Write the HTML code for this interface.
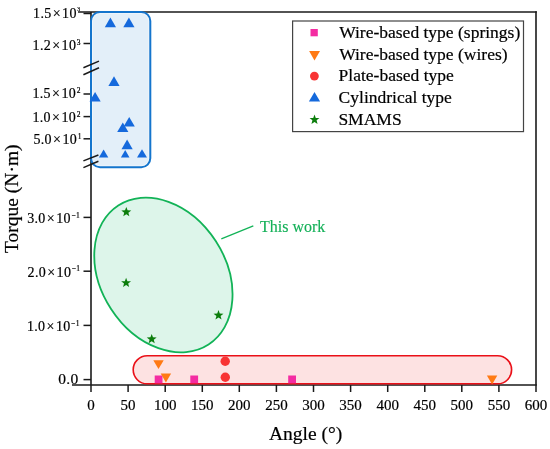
<!DOCTYPE html>
<html><head><meta charset="utf-8">
<style>
html,body{margin:0;padding:0;background:#fff;}
body{width:550px;height:449px;overflow:hidden;}
svg{display:block;}
text{font-family:"Liberation Serif","Times New Roman",serif;fill:#000;stroke:#000;stroke-width:0.2px;}
.tl{font-size:14px;letter-spacing:0.3px;}
.sup{font-size:7.5px;}
.xl{font-size:15px;}
.lg{font-size:17.5px;}
</style></head>
<body>
<svg width="550" height="449" viewBox="0 0 550 449">
<!-- frame -->
<g stroke="#1a1a1a" stroke-width="1.6" fill="none">
  <line x1="78" y1="12" x2="536.8" y2="12"/>
  <line x1="536" y1="11.2" x2="536" y2="385"/>
  <line x1="72" y1="385" x2="536.8" y2="385"/>
  <line x1="91" y1="12" x2="91" y2="385"/>
</g>
<!-- y ticks -->
<g stroke="#1a1a1a" stroke-width="1.5">
  <line x1="83.5" y1="13.5" x2="91" y2="13.5"/>
  <line x1="83.5" y1="43.5" x2="91" y2="43.5"/>
  <line x1="83.5" y1="94" x2="91" y2="94"/>
  <line x1="83.5" y1="116.6" x2="91" y2="116.6"/>
  <line x1="83.5" y1="138.8" x2="91" y2="138.8"/>
  <line x1="83.5" y1="217.4" x2="91" y2="217.4"/>
  <line x1="83.5" y1="271.2" x2="91" y2="271.2"/>
  <line x1="83.5" y1="325.4" x2="91" y2="325.4"/>
  <line x1="83.5" y1="379.6" x2="91" y2="379.6"/>
</g>
<!-- x ticks -->
<g stroke="#1a1a1a" stroke-width="1.5">
  <line x1="91" y1="385" x2="91" y2="392"/>
  <line x1="128.1" y1="385" x2="128.1" y2="392"/>
  <line x1="165.2" y1="385" x2="165.2" y2="392"/>
  <line x1="202.3" y1="385" x2="202.3" y2="392"/>
  <line x1="239.3" y1="385" x2="239.3" y2="392"/>
  <line x1="276.4" y1="385" x2="276.4" y2="392"/>
  <line x1="313.5" y1="385" x2="313.5" y2="392"/>
  <line x1="350.6" y1="385" x2="350.6" y2="392"/>
  <line x1="387.7" y1="385" x2="387.7" y2="392"/>
  <line x1="424.8" y1="385" x2="424.8" y2="392"/>
  <line x1="461.8" y1="385" x2="461.8" y2="392"/>
  <line x1="498.9" y1="385" x2="498.9" y2="392"/>
  <line x1="536" y1="385" x2="536" y2="392"/>
</g>
<!-- x tick labels -->
<g class="xl" text-anchor="middle">
  <text x="91" y="409.5">0</text>
  <text x="128.1" y="409.5">50</text>
  <text x="165.2" y="409.5">100</text>
  <text x="202.3" y="409.5">150</text>
  <text x="239.3" y="409.5">200</text>
  <text x="276.4" y="409.5">250</text>
  <text x="313.5" y="409.5">300</text>
  <text x="350.6" y="409.5">350</text>
  <text x="387.7" y="409.5">400</text>
  <text x="424.8" y="409.5">450</text>
  <text x="461.8" y="409.5">500</text>
  <text x="498.9" y="409.5">550</text>
  <text x="536" y="409.5">600</text>
</g>
<!-- y tick labels -->
<g class="tl">
  <text x="33.1" y="17.5">1.5<tspan dx="1.2">×</tspan><tspan dx="1.2">10</tspan><tspan class="sup" dx="0.4" dy="-6.6" style="font-size:6.5px;stroke-width:0.1px">3</tspan></text>
  <text x="32.6" y="49.7">1.2<tspan dx="1.2">×</tspan><tspan dx="1.2">10</tspan><tspan class="sup" dx="0.6" dy="-5.2">3</tspan></text>
  <text x="32.5" y="98.2">1.5<tspan dx="1.2">×</tspan><tspan dx="1.2">10</tspan><tspan class="sup" dx="0.6" dy="-5.2">2</tspan></text>
  <text x="32.5" y="122.4">1.0<tspan dx="1.2">×</tspan><tspan dx="1.2">10</tspan><tspan class="sup" dx="0.6" dy="-5.2">2</tspan></text>
  <text x="33.5" y="143.8">5.0<tspan dx="1.2">×</tspan><tspan dx="1.2">10</tspan><tspan class="sup" dx="0.6" dy="-5.2">1</tspan></text>
  <text x="27.2" y="222.7">3.0<tspan dx="1.2">×</tspan><tspan dx="1.2">10</tspan><tspan class="sup" dx="0.6" dy="-5.2">−1</tspan></text>
  <text x="27.6" y="276.6">2.0<tspan dx="1.2">×</tspan><tspan dx="1.2">10</tspan><tspan class="sup" dx="0.6" dy="-5.2">−1</tspan></text>
  <text x="26.9" y="331.2">1.0<tspan dx="1.2">×</tspan><tspan dx="1.2">10</tspan><tspan class="sup" dx="0.6" dy="-5.2">−1</tspan></text>
  <text x="58.3" y="383.8" style="font-size:15.5px">0.0</text>
</g>
<!-- axis titles -->
<text x="269" y="439.7" style="font-size:19.5px">Angle (°)</text>
<text transform="translate(17.9,253) rotate(-90)" x="0" y="0" style="font-size:19.5px">Torque (N·m)</text>

<!-- blue box -->
<rect x="91" y="12" width="59.3" height="155.3" rx="9" ry="9" fill="#eef5fb" stroke="#1475cd" stroke-width="2"/>
<rect x="93" y="14" width="55.3" height="151.3" rx="7.2" ry="7.2" fill="#e3eff9"/>
<!-- break marks -->
<g stroke="#1a1a1a" stroke-width="1.5">
  <line x1="83.4" y1="67.8" x2="99" y2="61.1"/>
  <line x1="83.4" y1="74.8" x2="99" y2="67.8"/>
  <line x1="83.4" y1="160.9" x2="98.4" y2="155"/>
  <line x1="83.4" y1="167.6" x2="98.4" y2="161.2"/>
</g>
<!-- blue triangles -->
<g fill="#1569dc">
  <path d="M110.4 17.6 L116 27.2 L104.8 27.2Z"/>
  <path d="M128.9 17.6 L134.5 27.2 L123.3 27.2Z"/>
  <path d="M114 76.3 L119.6 85.9 L108.4 85.9Z"/>
  <path d="M95.1 91.9 L100.7 101.5 L89.5 101.5Z"/>
  <path d="M129.2 117 L134.8 126.6 L123.6 126.6Z"/>
  <path d="M122.8 122.5 L128.4 132.1 L117.2 132.1Z"/>
  <path d="M127.1 139.6 L132.7 149.2 L121.5 149.2Z"/>
  <path d="M103.6 149.5 L108.3 157.5 L98.9 157.5Z"/>
  <path d="M125.2 150 L129.5 157.4 L120.9 157.4Z"/>
  <path d="M142 149.2 L147 157.6 L137 157.6Z"/>
</g>

<!-- green ellipse -->
<ellipse cx="163.4" cy="275.0" rx="82.9" ry="62.4" transform="rotate(57 163.4 275.0)" fill="#ddf5ea" stroke="#12b357" stroke-width="1.8"/>
<line x1="221.3" y1="238.8" x2="253.3" y2="225.8" stroke="#12b357" stroke-width="1.3"/>
<text x="260" y="231.7" style="font-size:16px;fill:#15b159;stroke:#15b159;stroke-width:0.15px">This work</text>
<!-- stars -->
<g fill="#0c7d0c">
<path d="M126.30 206.90 L127.58 210.33 L131.25 210.49 L128.38 212.77 L129.36 216.31 L126.30 214.28 L123.24 216.31 L124.22 212.77 L121.35 210.49 L125.02 210.33Z"/>
<path d="M126.10 277.70 L127.38 281.13 L131.05 281.29 L128.18 283.57 L129.16 287.11 L126.10 285.08 L123.04 287.11 L124.02 283.57 L121.15 281.29 L124.82 281.13Z"/>
<path d="M218.50 310.10 L219.78 313.53 L223.45 313.69 L220.58 315.97 L221.56 319.51 L218.50 317.48 L215.44 319.51 L216.42 315.97 L213.55 313.69 L217.22 313.53Z"/>
<path d="M151.70 333.90 L152.98 337.33 L156.65 337.49 L153.78 339.77 L154.76 343.31 L151.70 341.28 L148.64 343.31 L149.62 339.77 L146.75 337.49 L150.42 337.33Z"/>
</g>

<!-- red box -->
<rect x="133.2" y="355.8" width="378.4" height="28" rx="14" ry="14" fill="#fde2e2" stroke="#ea1018" stroke-width="1.6"/>
<!-- markers in red box -->
<g fill="#f42ca2">
  <rect x="154.7" y="375.5" width="7.8" height="7.8"/>
  <rect x="190.3" y="375.5" width="7.8" height="7.8"/>
  <rect x="288.2" y="375.5" width="7.8" height="7.8"/>
</g>
<g fill="#ff7a14">
  <path d="M153.3 360.2 L163.7 360.2 L158.5 369Z"/>
  <path d="M160.7 373.6 L171.1 373.6 L165.9 382.4Z"/>
  <path d="M486.9 375.6 L497.3 375.6 L492.1 384.4Z"/>
</g>
<g fill="#f83434">
  <circle cx="225.2" cy="361.2" r="4.7"/>
  <circle cx="225.3" cy="377.3" r="4.7"/>
</g>

<!-- legend -->
<rect x="292.6" y="21" width="230.9" height="110.6" fill="#fff" stroke="#444" stroke-width="1.2"/>
<rect x="310.5" y="29" width="7.3" height="7.3" fill="#f42ca2"/>
<path d="M309.1 51.1 L320 51.1 L314.5 60.5Z" fill="#ff7a14"/>
<circle cx="314.4" cy="76.1" r="4.4" fill="#f83434"/>
<path d="M314.5 92 L320.1 101.6 L308.9 101.6Z" fill="#1569dc"/>
<g fill="#0c7d0c"><path d="M314.50 114.50 L315.78 117.93 L319.45 118.09 L316.58 120.37 L317.56 123.91 L314.50 121.88 L311.44 123.91 L312.42 120.37 L309.55 118.09 L313.22 117.93Z"/></g>
<g class="lg">
  <text x="339.2" y="38.4">Wire-based type (springs)</text>
  <text x="339.2" y="59.7">Wire-based type (wires)</text>
  <text x="338.6" y="81.4">Plate-based type</text>
  <text x="338.6" y="103.3">Cylindrical type</text>
  <text x="338.4" y="125.1">SMAMS</text>
</g>
</svg>
</body></html>
